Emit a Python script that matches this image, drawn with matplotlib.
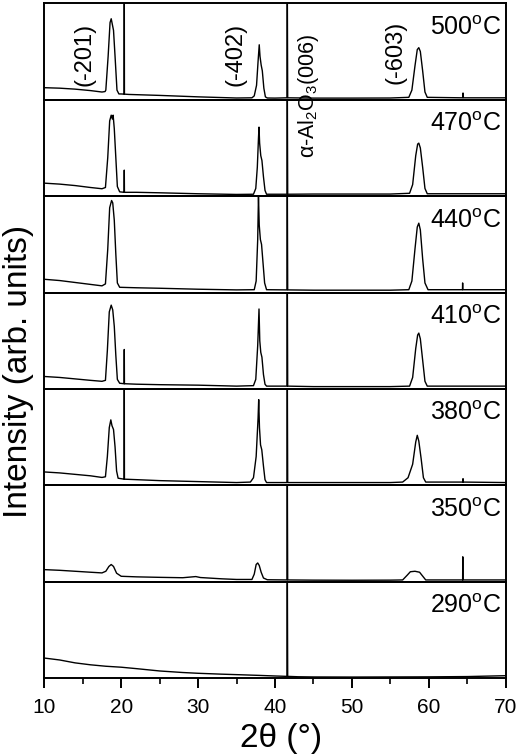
import matplotlib
matplotlib.use("Agg")
import matplotlib.pyplot as plt
from matplotlib.ticker import MultipleLocator

plt.rcParams["font.family"] = ["Liberation Sans", "DejaVu Sans"]
plt.rcParams["mathtext.default"] = "regular"

# temperatures, top to bottom
temps = ["500", "470", "440", "410", "380", "350", "290"]

# traces: 2theta (deg) and intensity as a fraction of panel height
x_500 = [10, 12, 14, 16, 17.5, 17.9, 18.0, 18.3, 18.55, 18.7, 18.85, 19.0, 19.2, 19.45, 19.7,
         20.0, 20.38, 20.4, 20.42, 21, 25, 30, 35, 37.0, 37.3, 37.6, 37.8, 37.95, 38.05, 38.2,
         38.35, 38.55, 38.75, 39.0, 40, 41.55, 41.6, 41.65, 45, 50, 55, 57.4, 57.8, 58.2, 58.5,
         58.7, 58.9, 59.2, 59.5, 59.8, 64.4, 64.45, 64.5, 70]
y_500 = [0.125, 0.12, 0.11, 0.095, 0.08, 0.085, 0.1, 0.45, 0.80, 0.84, 0.78, 0.72, 0.45, 0.1, 0.06,
         0.06, 0.058, 1.2, 0.058, 0.055, 0.045, 0.03, 0.018, 0.02, 0.04, 0.15, 0.4, 0.57, 0.45, 0.36,
         0.3, 0.12, 0.03, 0.018, 0.017, 0.02, 1.2, 0.02, 0.017, 0.017, 0.018, 0.025, 0.1, 0.35, 0.52,
         0.54, 0.5, 0.3, 0.08, 0.025, 0.02, 0.07, 0.02, 0.02]

x_470 = [10, 12, 14, 16, 17.5, 17.95, 18.25, 18.5, 18.7, 18.85, 18.95, 19.1, 19.3, 19.5, 19.8,
         20.38, 20.4, 20.42, 22, 25, 30, 35, 37.2, 37.5, 37.7, 37.85, 37.92, 38.0, 38.15, 38.3,
         38.5, 38.7, 38.9, 41.55, 41.6, 41.65, 45, 50, 55, 57.5, 57.9, 58.3, 58.55, 58.7, 58.9,
         59.2, 59.5, 59.8, 65, 70]
y_470 = [0.135, 0.125, 0.11, 0.09, 0.077, 0.09, 0.4, 0.78, 0.84, 0.8, 0.84, 0.7, 0.4, 0.1, 0.045,
         0.04, 0.27, 0.04, 0.04, 0.035, 0.025, 0.018, 0.02, 0.08, 0.3, 0.6, 0.716, 0.55, 0.42, 0.37,
         0.2, 0.06, 0.02, 0.02, 1.2, 0.02, 0.022, 0.022, 0.022, 0.03, 0.12, 0.42, 0.54, 0.55, 0.5,
         0.3, 0.08, 0.025, 0.025, 0.025]

x_440 = [10, 12, 14, 16, 17.5, 17.95, 18.25, 18.5, 18.75, 18.9, 19.1, 19.3, 19.5, 19.8, 22, 25,
         30, 35, 37.3, 37.55, 37.75, 37.85, 37.95, 38.1, 38.25, 38.45, 38.65, 38.9, 41.55, 41.6,
         41.65, 45, 50, 55, 57.4, 57.8, 58.2, 58.5, 58.7, 58.9, 59.2, 59.5, 59.9, 64.38, 64.4,
         64.42, 70]
y_440 = [0.138, 0.125, 0.105, 0.085, 0.07, 0.09, 0.45, 0.88, 0.955, 0.93, 0.75, 0.4, 0.1, 0.055,
         0.05, 0.045, 0.035, 0.028, 0.03, 0.12, 0.55, 1.0, 0.7, 0.55, 0.5, 0.3, 0.1, 0.03, 0.028,
         1.2, 0.028, 0.025, 0.025, 0.025, 0.03, 0.12, 0.45, 0.68, 0.72, 0.65, 0.35, 0.1, 0.03,
         0.03, 0.1, 0.03, 0.03]

x_410 = [10, 12, 14, 16, 17.5, 17.95, 18.2, 18.45, 18.7, 18.9, 19.1, 19.3, 19.5, 19.8, 20.38,
         20.4, 20.42, 22, 25, 30, 35, 37.2, 37.5, 37.75, 37.92, 38.02, 38.15, 38.3, 38.5, 38.7,
         38.9, 41.55, 41.6, 41.65, 45, 50, 55, 57.5, 57.9, 58.3, 58.55, 58.7, 58.9, 59.2, 59.5,
         59.8, 70]
y_410 = [0.13, 0.12, 0.105, 0.09, 0.08, 0.09, 0.4, 0.8, 0.87, 0.82, 0.65, 0.35, 0.1, 0.06, 0.055,
         0.41, 0.055, 0.05, 0.045, 0.04, 0.03, 0.035, 0.1, 0.45, 0.83, 0.5, 0.38, 0.33, 0.15, 0.05,
         0.03, 0.03, 1.2, 0.03, 0.025, 0.025, 0.025, 0.03, 0.12, 0.42, 0.56, 0.58, 0.52, 0.3, 0.08,
         0.03, 0.03]

x_380 = [10, 12, 14, 16, 17.5, 17.95, 18.2, 18.45, 18.65, 18.8, 19.0, 19.2, 19.4, 19.6, 20.38,
         20.4, 20.42, 22, 25, 30, 35, 36.8, 37.2, 37.55, 37.8, 37.88, 37.98, 38.12, 38.28, 38.5,
         38.7, 38.9, 41.55, 41.6, 41.65, 45, 50, 55, 56.6, 57.3, 57.9, 58.3, 58.5, 58.7, 59.0,
         59.3, 59.6, 64.42, 64.45, 64.48, 70]
y_380 = [0.14, 0.13, 0.115, 0.1, 0.083, 0.09, 0.3, 0.6, 0.68, 0.62, 0.58, 0.4, 0.15, 0.075, 0.065,
         1.2, 0.065, 0.06, 0.05, 0.04, 0.03, 0.035, 0.08, 0.3, 0.7, 0.89, 0.6, 0.42, 0.37, 0.2,
         0.06, 0.03, 0.03, 1.2, 0.03, 0.03, 0.03, 0.03, 0.035, 0.08, 0.22, 0.45, 0.52, 0.46, 0.28,
         0.08, 0.035, 0.035, 0.07, 0.035, 0.03]

x_350 = [10, 12, 14, 16, 17.5, 18.0, 18.4, 18.7, 19.0, 19.4, 20, 22, 25, 28, 29.7, 30.3, 33, 35,
         37.0, 37.3, 37.55, 37.75, 37.95, 38.2, 38.5, 39, 41.55, 41.6, 41.65, 45, 50, 55, 56.6,
         57.2, 57.6, 58.2, 58.8, 59.2, 59.6, 64.4, 64.42, 64.44, 70]
y_350 = [0.127, 0.12, 0.11, 0.1, 0.093, 0.11, 0.16, 0.18, 0.16, 0.09, 0.058, 0.052, 0.047, 0.043,
         0.055, 0.045, 0.032, 0.025, 0.025, 0.08, 0.18, 0.196, 0.17, 0.1, 0.04, 0.022, 0.02, 1.2,
         0.02, 0.018, 0.017, 0.018, 0.02, 0.07, 0.105, 0.11, 0.1, 0.06, 0.02, 0.02, 0.26, 0.02,
         0.02]

x_290 = [10, 12, 14, 16, 18, 20, 22, 25, 28, 30, 33, 35, 38, 40, 41.55, 41.6, 41.65, 43, 45, 50,
         55, 60, 65, 70]
y_290 = [0.21, 0.19, 0.16, 0.14, 0.125, 0.115, 0.1, 0.076, 0.06, 0.052, 0.043, 0.038, 0.03, 0.024,
         0.02, 1.2, 0.02, 0.016, 0.014, 0.013, 0.014, 0.015, 0.018, 0.027]

traces = [(x_500, y_500), (x_470, y_470), (x_440, y_440), (x_410, y_410),
          (x_380, y_380), (x_350, y_350), (x_290, y_290)]

fig = plt.figure(figsize=(5.2, 7.54), dpi=100)
gs = fig.add_gridspec(len(temps), 1, left=0.0852, right=0.9725, top=0.9956, bottom=0.1004,
                      hspace=0)
axes = [fig.add_subplot(gs[i]) for i in range(len(temps))]

for ax, temp, (xs, ys) in zip(axes, temps, traces):
    ax.plot(xs, ys, color="black", lw=1.0)
    ax.set_xlim(10, 70)
    ax.set_ylim(0, 1)
    ax.set_facecolor("none")
    for s in ax.spines.values():
        s.set_linewidth(1.4)
    ax.tick_params(left=False, labelleft=False, bottom=False, labelbottom=False)
    ax.text(0.99, 0.675, temp + "$^{o}$C", transform=ax.transAxes, ha="right",
            va="baseline", fontsize=18)

bottom = axes[-1]
bottom.xaxis.set_major_locator(MultipleLocator(10))
bottom.xaxis.set_minor_locator(MultipleLocator(5))
bottom.tick_params(axis="x", which="major", bottom=True, labelbottom=True, direction="out",
                   length=7, width=1.4, labelsize=15, pad=7)
bottom.tick_params(axis="x", which="minor", bottom=True, direction="out", length=4, width=1.2)

top = axes[0]
top.set_zorder(5)
top.text(15.2, 0.467, "(-201)", rotation=90, ha="center", va="center", fontsize=17)
top.text(34.8, 0.467, "(-402)", rotation=90, ha="center", va="center", fontsize=17)
top.text(55.7, 0.487, "(-603)", rotation=90, ha="center", va="center", fontsize=17)
top.text(44.4, 0.045, r"$\alpha$-Al$_2$O$_3$(006)", rotation=90, ha="center", va="center",
         fontsize=15.5, clip_on=False)

fig.text(26.7 / 520, 1 - 371 / 754, "Intensity (arb. units)", rotation=90,
         rotation_mode="anchor", ha="center", va="baseline", fontsize=24)
fig.text(281 / 520, 1 - 746.7 / 754, "2θ (°)", ha="center", va="baseline", fontsize=24)

fig.savefig("out.png", dpi=100)
